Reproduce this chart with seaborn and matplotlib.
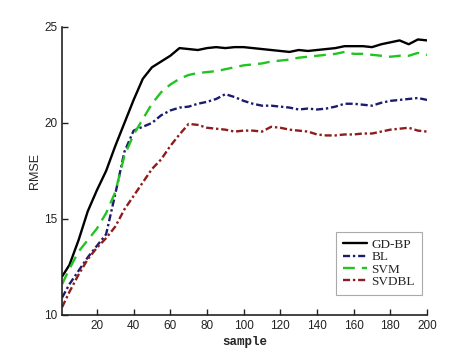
import seaborn as sns
import matplotlib.pyplot as plt
import pandas as pd

sample = [1, 5, 10, 15, 20, 25, 30, 35, 40, 45, 50, 55, 60, 65, 70, 75, 80, 85, 90, 95, 100,
          105, 110, 115, 120, 125, 130, 135, 140, 145, 150, 155, 160, 165, 170, 175, 180, 185, 190, 195, 200]

gd_bp = [12.0, 12.6, 13.9, 15.4, 16.5, 17.5, 18.8, 20.0, 21.2, 22.3, 22.9, 23.2, 23.5, 23.9, 23.85, 23.8, 23.9, 23.95, 23.9, 23.95, 23.95,
         23.9, 23.85, 23.8, 23.75, 23.7, 23.8, 23.75, 23.8, 23.85, 23.9, 24.0, 24.0, 24.0, 23.95, 24.1, 24.2, 24.3, 24.1, 24.35, 24.3]
bl = [10.9, 11.6, 12.3, 13.0, 13.6, 14.2, 16.3, 18.5, 19.6, 19.8, 20.0, 20.4, 20.65, 20.8, 20.85, 21.0, 21.1, 21.25, 21.5, 21.35, 21.15,
      21.0, 20.9, 20.9, 20.85, 20.8, 20.7, 20.75, 20.7, 20.75, 20.85, 21.0, 21.0, 20.95, 20.9, 21.05, 21.15, 21.2, 21.25, 21.3, 21.2]
svm = [11.6, 12.4, 13.3, 13.9, 14.5, 15.3, 16.4, 18.3, 19.4, 20.2, 21.0, 21.6, 22.0, 22.3, 22.5, 22.6, 22.65, 22.7, 22.8, 22.9, 23.0,
       23.05, 23.1, 23.2, 23.25, 23.3, 23.4, 23.45, 23.5, 23.55, 23.6, 23.7, 23.6, 23.6, 23.55, 23.5, 23.45, 23.5, 23.5, 23.65, 23.55]
svdbl = [10.4, 11.2, 12.1, 12.9, 13.5, 14.0, 14.6, 15.5, 16.2, 16.9, 17.6, 18.1, 18.8, 19.4, 19.95, 19.9, 19.75, 19.7, 19.65, 19.55, 19.6,
         19.6, 19.55, 19.8, 19.75, 19.65, 19.6, 19.55, 19.4, 19.35, 19.35, 19.4, 19.4, 19.45, 19.45, 19.55, 19.65, 19.7, 19.75, 19.6, 19.55]

series = [("GD-BP", gd_bp, "#000000", "-"),
          ("BL", bl, "#1c1c6e", (0, (3, 1.2, 1, 1.2))),
          ("SVM", svm, "#22c422", (0, (5, 3))),
          ("SVDBL", svdbl, "#8e1c1c", (0, (3, 1.2, 1, 1.2)))]

sns.set_style("ticks")
fig = plt.figure(figsize=(4.74, 3.55), dpi=100)
ax = fig.add_axes([0.131, 0.113, 0.770, 0.811])

for name, vals, col, ls in series:
    df = pd.DataFrame({"sample": sample, "RMSE": vals})
    sns.lineplot(data=df, x="sample", y="RMSE", ax=ax, color=col, linestyle=ls,
                 linewidth=1.7, label=name)

ax.set_xlim(1, 200)
ax.set_ylim(10, 25)
ax.set_xticks(range(20, 201, 20))
ax.set_yticks([10, 15, 20, 25])
sns.despine(ax=ax)
for s in ["left", "bottom"]:
    ax.spines[s].set_linewidth(1.2)
    ax.spines[s].set_color("#222222")
ax.tick_params(direction="in", length=4, width=1, labelsize=8.5, colors="#222222")
for lab in ax.get_xticklabels() + ax.get_yticklabels():
    lab.set_family("Liberation Sans")

ax.set_xlabel("sample", family="Liberation Mono", fontsize=9, fontweight="bold", labelpad=3)
ax.set_ylabel("RMSE", family="Liberation Sans", fontsize=9, labelpad=2)

leg = ax.legend(loc="lower right", bbox_to_anchor=(0.986, 0.069), borderaxespad=0,
                prop={"family": "Liberation Serif", "size": 9.5},
                handlelength=1.8, handletextpad=0.3, labelspacing=0.0,
                borderpad=0.55, fancybox=False, framealpha=1)
leg.get_frame().set_edgecolor("#aaaaaa")
leg.get_frame().set_linewidth(0.8)

fig.savefig("out.png", dpi=100)
